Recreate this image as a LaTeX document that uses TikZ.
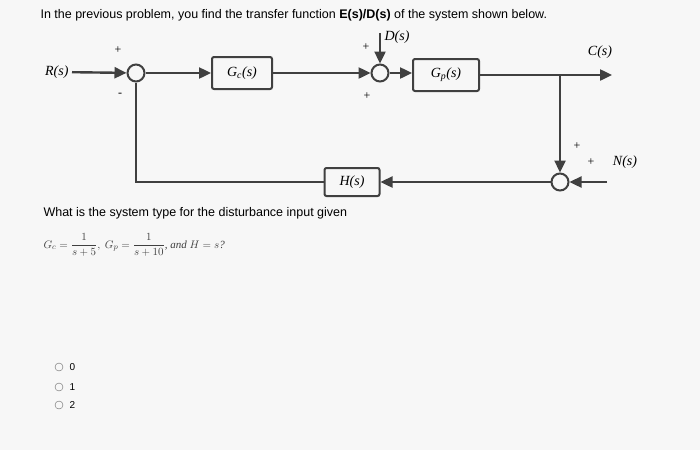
\documentclass[tikz,border=0pt]{standalone}
\usepackage{amsmath}
\usepackage{fontspec}
\setmainfont{Liberation Serif}
\setsansfont{Liberation Sans}
\usetikzlibrary{arrows.meta}
\begin{document}
\begin{tikzpicture}[x=1pt,y=-1pt,
  ln/.style={draw=black!75,line width=2.4pt},
  ar/.style={ln,-{Triangle[length=12pt,width=11pt]}},
  blk/.style={draw=black!75,line width=2pt,rounded corners=2pt,minimum width=60pt,minimum height=32pt,font=\itshape\fontsize{14}{14}\selectfont},
  sm/.style={circle,draw=black!75,line width=2pt,minimum size=17pt,inner sep=0pt},
  lb/.style={font=\itshape\fontsize{14}{14}\selectfont},
  sg/.style={font=\fontsize{12}{12}\selectfont},
  tx/.style={font=\sffamily\fontsize{12.5}{13}\selectfont,anchor=west}]
\fill[gray!6] (0,0) rectangle (700,450);
\node[tx] (t1) at (37,15) {In the previous problem, you find the transfer function \textbf{E(s)/D(s)} of the system shown below.};
\node[lb,anchor=east] (R) at (72,72) {R(s)};
\node[sm] (s1) at (136,73) {};
\node[blk] (gc) at (242,73) {G\textsubscript{c}(s)};
\node[sm] (s2) at (380,73) {};
\node[blk,minimum width=66pt] (gp) at (446,75) {G\textsubscript{p}(s)};
\coordinate (c) at (612,75);
\coordinate (br) at (560,75);
\node[sm] (s3) at (560,182) {};
\node[blk,minimum width=55pt,minimum height=28pt] (h) at (352,182) {H(s)};
\coordinate (fb) at (136,182);
\coordinate (dtop) at (380,33);
\coordinate (nr) at (607,182);
\node[lb] (D) at (397,37) {D(s)};
\node[lb] (C) at (600,52) {C(s)};
\node[lb] (N) at (625,162) {N(s)};
\node[sg] (p1) at (118,50) {+};
\node[sg] (m1) at (120,95) {-};
\node[sg] (p2) at (366,47) {+};
\node[sg] (p3) at (367,96) {+};
\node[sg] (p4) at (577,146) {+};
\node[sg] (p5) at (591,162) {+};
\draw[ar] (R) -- (s1);
\draw[ar] (s1) -- (gc);
\draw[ar] (gc) -- (s2);
\draw[ar] (s2) -- (gp.west|-s2);
\draw[ar] (gp.east|-c) -- (c);
\draw[ar] (br) -- (s3);
\draw[ar] (s3) -- (h);
\draw[ar] (nr) -- (s3);
\draw[ar] (dtop) -- (s2);
\draw[ln] (h) -- (fb) -- (s1);
\node[tx] (q) at (40,213) {What is the system type for the disturbance input given};
\node[anchor=west,font=\itshape\fontsize{11}{11}\selectfont,text=black!75] (eq) at (40,245) {$G_c=\dfrac{1}{s+5},\ G_p=\dfrac{1}{s+10}$, and $H=s$?};
\foreach \i/\v in {0/367,1/387,2/405}{
  \node[circle,draw=black!60,minimum size=8pt,inner sep=0pt] (o\i) at (59,\v) {};
  \node[font=\sffamily\fontsize{10}{10}\selectfont,anchor=west] (l\i) at (66,\v) {\i};
}
\end{tikzpicture}
\end{document}
